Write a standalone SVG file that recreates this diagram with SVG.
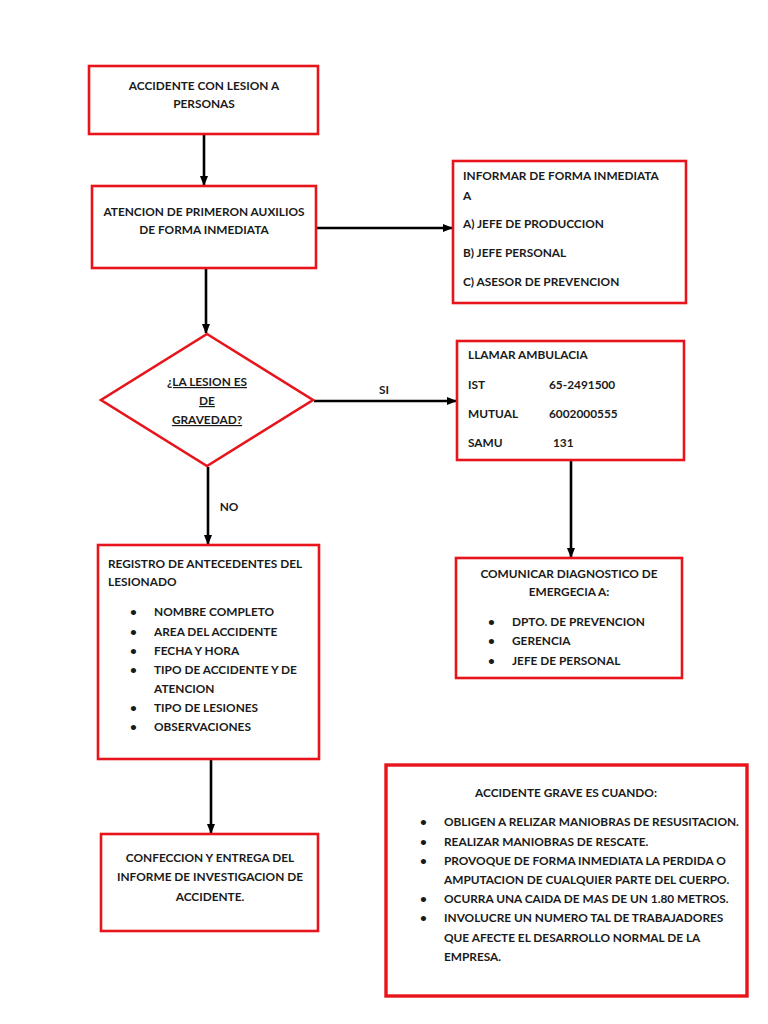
<svg xmlns="http://www.w3.org/2000/svg" width="768" height="1024" viewBox="0 0 768 1024">
<style>
.box{fill:#fff;stroke:#e8141c;stroke-width:2.6}
.thick{stroke-width:3.4}
.t{font-family:Lato,"Open Sans","Liberation Sans",sans-serif;font-weight:bold;font-size:11.85px;fill:#1a1a1a}
.m{text-anchor:middle}
.c{stroke:#000;stroke-width:2.6;fill:none;marker-end:url(#ah)}
.u{text-decoration:underline}
</style>
<defs>
<marker id="ah" viewBox="0 0 10 10" refX="9" refY="5" markerWidth="4" markerHeight="4" orient="auto" markerUnits="strokeWidth">
<path d="M0,1 L10,5 L0,9 z" fill="#000"/>
</marker>
</defs>
<rect width="768" height="1024" fill="#fff"/>

<g id="connectors">
<line class="c" x1="204" y1="135" x2="204" y2="185"/>
<line class="c" x1="317" y1="228" x2="452" y2="228"/>
<line class="c" x1="206" y1="269" x2="206" y2="333"/>
<line class="c" x1="314" y1="401" x2="456" y2="401"/>
<line class="c" x1="208" y1="467" x2="208" y2="544"/>
<line class="c" x1="571" y1="461" x2="571" y2="557"/>
<line class="c" x1="211" y1="760" x2="211" y2="833"/>
<text class="t" x="384" y="394" text-anchor="middle">SI</text>
<text class="t" x="229" y="511" text-anchor="middle">NO</text>
</g>

<g id="n1">
<rect class="box" x="89" y="66" width="229" height="68"/>
<text class="t m" x="204" y="90">ACCIDENTE CON LESION A</text>
<text class="t m" x="204" y="108">PERSONAS</text>
</g>

<g id="n2">
<rect class="box" x="92" y="186" width="224" height="82"/>
<text class="t m" x="204" y="216">ATENCION DE PRIMERON AUXILIOS</text>
<text class="t m" x="204" y="234">DE FORMA INMEDIATA</text>
</g>

<g id="n3">
<rect class="box" x="453" y="161" width="233" height="142"/>
<text class="t" x="463" y="180">INFORMAR DE FORMA INMEDIATA</text>
<text class="t" x="463" y="200">A</text>
<text class="t" x="463" y="228">A) JEFE DE PRODUCCION</text>
<text class="t" x="463" y="257">B) JEFE PERSONAL</text>
<text class="t" x="463" y="286">C) ASESOR DE PREVENCION</text>
</g>

<g id="n4">
<polygon class="box" points="207,334 313,400 207,466 101,400"/>
<text class="t m u" x="207" y="386">¿LA LESION ES</text>
<text class="t m u" x="207" y="405">DE</text>
<text class="t m u" x="207" y="424">GRAVEDAD?</text>
</g>

<g id="n5">
<rect class="box" x="457" y="341" width="227" height="119"/>
<text class="t" x="468" y="359">LLAMAR AMBULACIA</text>
<text class="t" x="468" y="389">IST</text>
<text class="t" x="549" y="389">65-2491500</text>
<text class="t" x="468" y="418">MUTUAL</text>
<text class="t" x="549" y="418">6002000555</text>
<text class="t" x="468" y="447">SAMU</text>
<text class="t" x="553" y="447">131</text>
</g>

<g id="n6">
<rect class="box" x="98" y="545" width="221" height="214"/>
<text class="t" x="108" y="568">REGISTRO DE ANTECEDENTES DEL</text>
<text class="t" x="108" y="586">LESIONADO</text>
<text class="t" x="130" y="616">•</text><text class="t" x="154" y="616">NOMBRE COMPLETO</text>
<text class="t" x="130" y="636">•</text><text class="t" x="154" y="636">AREA DEL ACCIDENTE</text>
<text class="t" x="130" y="655">•</text><text class="t" x="154" y="655">FECHA Y HORA</text>
<text class="t" x="130" y="674">•</text><text class="t" x="154" y="674">TIPO DE ACCIDENTE Y DE</text>
<text class="t" x="154" y="693">ATENCION</text>
<text class="t" x="130" y="712">•</text><text class="t" x="154" y="712">TIPO DE LESIONES</text>
<text class="t" x="130" y="731">•</text><text class="t" x="154" y="731">OBSERVACIONES</text>
</g>

<g id="n7">
<rect class="box" x="101" y="834" width="217" height="97"/>
<text class="t m" x="210" y="862">CONFECCION Y ENTREGA DEL</text>
<text class="t m" x="210" y="881">INFORME DE INVESTIGACION DE</text>
<text class="t m" x="210" y="901">ACCIDENTE.</text>
</g>

<g id="n8">
<rect class="box" x="456" y="558" width="226" height="120"/>
<text class="t m" x="569" y="578">COMUNICAR DIAGNOSTICO DE</text>
<text class="t m" x="569" y="596">EMERGECIA A:</text>
<text class="t" x="488" y="626">•</text><text class="t" x="512" y="626">DPTO. DE PREVENCION</text>
<text class="t" x="488" y="645">•</text><text class="t" x="512" y="645">GERENCIA</text>
<text class="t" x="488" y="665">•</text><text class="t" x="512" y="665">JEFE DE PERSONAL</text>
</g>

<g id="n9">
<rect class="box thick" x="386" y="765" width="361" height="231"/>
<text class="t m" x="566" y="797">ACCIDENTE GRAVE ES CUANDO:</text>
<text class="t" x="420" y="826">•</text><text class="t" x="444" y="826">OBLIGEN A RELIZAR MANIOBRAS DE RESUSITACION.</text>
<text class="t" x="420" y="846">•</text><text class="t" x="444" y="846">REALIZAR MANIOBRAS DE RESCATE.</text>
<text class="t" x="420" y="865">•</text><text class="t" x="444" y="865">PROVOQUE DE FORMA INMEDIATA LA PERDIDA O</text>
<text class="t" x="444" y="884">AMPUTACION DE CUALQUIER PARTE DEL CUERPO.</text>
<text class="t" x="420" y="903">•</text><text class="t" x="444" y="903">OCURRA UNA CAIDA DE MAS DE UN 1.80 METROS.</text>
<text class="t" x="420" y="922">•</text><text class="t" x="444" y="922">INVOLUCRE UN NUMERO TAL DE TRABAJADORES</text>
<text class="t" x="444" y="942">QUE AFECTE EL DESARROLLO NORMAL DE LA</text>
<text class="t" x="444" y="961">EMPRESA.</text>
</g>
</svg>
